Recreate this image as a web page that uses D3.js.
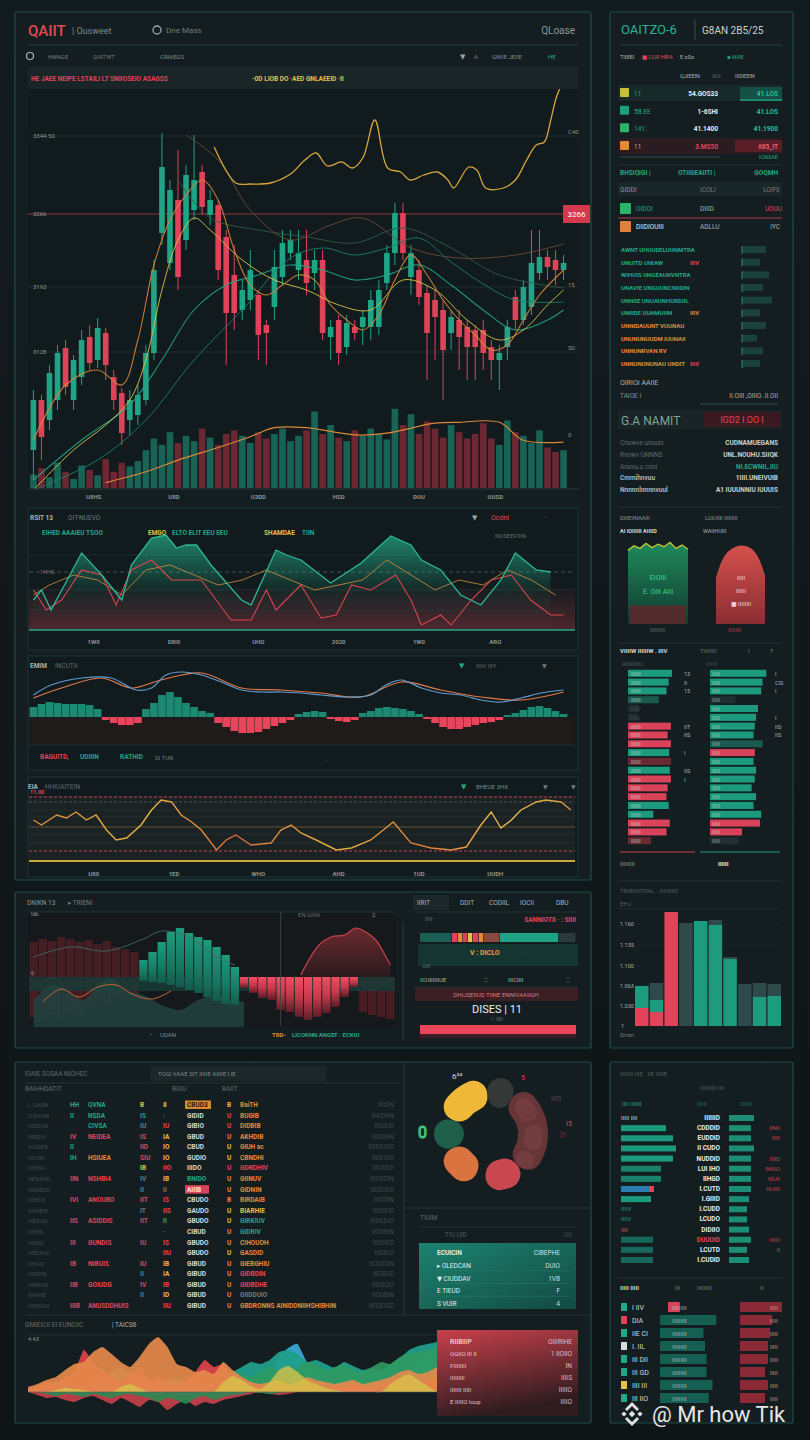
<!DOCTYPE html>
<html><head><meta charset="utf-8">
<script src="https://cdn.jsdelivr.net/npm/d3@7"></script>
<style>
html,body{margin:0;padding:0;background:#0e1517;}
svg{display:block;font-family:Roboto,"DejaVu Sans",sans-serif;}
</style></head><body>
<svg id="c" width="810" height="1440"></svg>
<script>
// ================= DATA =================
const candles = [
[3030,3080,3090,3000],[3080,3043,3085,3020],[3060,3107,3115,3050],[3080,3127,3135,3070],[3132,3093,3140,3085],
[3080,3120,3125,3070],[3103,3140,3150,3095],[3143,3117,3155,3110],[3120,3152,3162,3112],[3147,3115,3152,3100],
[3103,3080,3110,3070],[3087,3047,3092,3035],[3060,3080,3090,3045],[3065,3085,3095,3055],[3080,3127,3135,3075],
[3127,3210,3220,3120],[3247,3313,3347,3235],[3217,3290,3300,3210],[3280,3203,3330,3190],[3240,3305,3315,3230],
[3270,3300,3345,3260],[3308,3273,3315,3265],[3265,3280,3290,3255],[3275,3210,3280,3200],[3243,3167,3250,3115],
[3205,3167,3235,3150],[3170,3190,3200,3160],[3180,3210,3230,3170],[3185,3145,3190,3120],[3155,3147,3160,3115],
[3173,3213,3230,3160],[3203,3237,3250,3195],[3227,3240,3250,3220],[3210,3227,3250,3200],[3220,3197,3250,3185],
[3207,3220,3230,3190],[3220,3147,3230,3140],[3143,3153,3160,3120],[3160,3127,3165,3115],[3133,3157,3165,3125],
[3153,3147,3160,3140],[3153,3163,3170,3135],[3153,3180,3190,3140],[3153,3190,3200,3145],[3197,3227,3235,3190],
[3227,3267,3277,3215],[3267,3227,3277,3220],[3203,3227,3235,3185],[3210,3183,3220,3175],[3187,3147,3195,3100],
[3180,3163,3190,3120],[3170,3130,3180,3080],[3147,3163,3170,3130],[3160,3143,3170,3110],[3153,3133,3160,3100],
[3150,3133,3155,3100],[3150,3127,3160,3110],[3133,3120,3140,3100],[3120,3127,3135,3090],[3133,3153,3160,3120],
[3183,3160,3190,3150],[3160,3193,3200,3155],[3173,3217,3250,3165],[3207,3223,3250,3200],[3223,3213,3230,3200],
[3220,3210,3230,3195],[3210,3217,3225,3200]
];
const volumes = [15,22,12,28,18,10,25,20,14,32,18,28,24,
30,42,55,48,62,50,58,52,66,56,48,60,64,
58,50,62,55,60,66,52,58,64,85,60,70,56,
52,64,58,66,60,54,88,70,82,60,74,66,56,
70,62,55,60,72,55,48,75,62,58,50,64,45,40,42];
const volMA = [[9,6],[14,18],[18,31],[23,45],[27,57],[30,67],[34,67],[40,59],[44,61],[50,72],[53,73],[58,73],[61,53],[66,51]];
const priceTicks = [3344,3266,3193,3128];
const priceTickLabels = ["3344.50","3266","3193","3128"];
const rightTicks = [3348,3195,3132,3045];
const rightTickLabels = ["C40","15","5D","0"];
const lastPrice = 3266;
const topLine = [[22.5,3333],[25.2,3297],[27,3296],[29.5,3297],[32,3306],[33.8,3320],[35.2,3327],[36.6,3314],[38.4,3318],[39.7,3312],[41,3322],[42.5,3360],[44.1,3312],[45.7,3308],[46.9,3300],[48.6,3305],[50.3,3308],[51.6,3300],[52.3,3292],[54.2,3313],[55.2,3310],[56.3,3292],[58.5,3292],[60,3300],[61.4,3320],[62.6,3335],[63.6,3338],[64.4,3360],[65.2,3385],[66.6,3408]];
const maOrange = [[0,3040],[4,3095],[8,3110],[11,3095],[13,3140],[15,3215],[17,3260],[19,3285],[21,3300],[23,3280],[25,3230],[27,3195],[29,3185],[31,3195],[33,3205],[35,3200],[37,3175],[39,3160],[41,3150],[43,3165],[45,3200],[47,3225],[49,3205],[51,3180],[53,3160],[55,3145],[57,3130],[59,3135],[61,3160],[63,3185],[66,3210]];
const maYellow = [[0,2990],[5,3030],[9,3055],[12,3080],[14,3120],[16,3190],[18,3240],[20,3262],[22,3250],[26,3220],[30,3200],[34,3190],[38,3175],[42,3170],[46,3200],[50,3190],[54,3160],[58,3140],[61,3150],[64,3175],[66,3190]];
const maTeal = [[0,3000],[6,3040],[12,3075],[16,3120],[20,3170],[24,3195],[28,3205],[32,3215],[36,3210],[40,3200],[44,3205],[48,3215],[52,3195],[56,3170],[60,3150],[64,3160],[66,3170]];
const maTeal2 = [[0,2990],[8,3020],[14,3060],[20,3120],[26,3170],[32,3222],[36,3232],[40,3225],[44,3232],[48,3242],[52,3218],[56,3196],[60,3180],[66,3178]];
const maDark = [[18,3300],[22,3262],[28,3250],[34,3243],[40,3237],[46,3252],[52,3232],[58,3205],[66,3192]];
const maBrown = [[19,3345],[23,3320],[27,3270],[32,3240],[37,3255],[41,3262],[47,3232],[53,3222],[60,3225],[66,3236]];
const mainTickIdx = [7.5,17.5,28,38,48,57.5];
const mainTickLabels = ["U8HS","U8D","U3DD","HSD","DUU","UUSD"];

const rsiTeal = [[0,30],[1,40],[2.2,20],[6,77],[8.5,55],[11,30],[12.2,65],[14.7,92],[16.5,95],[17.8,82],[19,85],[20.3,85],[22.1,65],[25.9,30],[27.1,25],[30.2,80],[31.5,75],[33.3,70],[37,47],[40.8,67],[44.5,94],[47,85],[48.3,70],[50.7,60],[53.2,35],[55.7,25],[58.2,50],[60,77],[62.6,60],[64.4,58]];
const rsiRed = [[0,40],[1.6,20],[3.5,30],[6,60],[8.5,55],[10.3,25],[12.2,60],[14.7,70],[17.2,50],[20.9,50],[24.6,10],[27.1,10],[29,40],[30.2,20],[33.3,45],[35.8,12],[37.7,15],[39.6,45],[42,40],[45.1,55],[47,30],[48.3,5],[50.7,15],[52,5],[54.5,30],[57,50],[59.5,55],[61.9,30],[64.4,15],[66,15]];
const rsiOrange = [[0,35],[2,45],[5,55],[8,50],[11,35],[14,60],[17,65],[20,55],[23,45],[26,50],[29,60],[32,50],[35,40],[38,45],[41,50],[44,70],[47,55],[50,40],[53,50],[56,45],[59,60],[62,50],[65,35]];
const subTickLabels1 = ["1W0","D8I0","UHO","2020","1W0","ARO"];

const macdBlue = [[0,22],[2.2,32],[6,39],[9.7,39],[12.8,27],[14.7,29],[16.5,42],[18.4,45],[20.9,42],[23.4,35],[25.9,27],[28.4,25],[30.8,25],[33.3,24],[35.8,22],[38.9,20],[42,22],[43.9,32],[45.8,37],[48.3,29],[50.7,24],[53.2,22],[55.7,17],[58.2,15],[60.7,19],[63.2,24],[66,27]];
const macdOrange = [[0,19],[3.5,29],[8.5,39],[12.2,29],[15.9,37],[20.9,44],[25.9,29],[30.8,27],[35.8,24],[40.8,20],[45.8,35],[50.7,27],[55.7,20],[60.7,17],[66,25]];
const macdHist = [10,13,15,14,13,13,13,12,8,
-3,-6,-8,-8,-6,
8,14,22,25,20,14,
10,6,4,
-6,-10,-14,-16,-16,-15,-12,-9,-6,-3,
3,5,6,5,
-2,-4,-5,-3,
4,6,9,10,9,
8,6,3,-2,
-6,-10,-12,-12,-10,-8,-6,
-5,-3,2,
4,7,10,11,9,6,3];

const osc = [[0,38],[1,33],[2.9,43],[4.1,40],[5.3,46],[6.6,38],[7.8,43],[9.1,28],[10.3,18],[11.6,20],[13.4,33],[14.7,48],[15.9,58],[17.2,56],[18.4,43],[19.7,36],[20.9,28],[22.8,8],[24,18],[25.2,23],[27.1,13],[29.6,15],[30.8,28],[32.1,33],[33.3,25],[35.2,18],[37.7,8],[39.6,10],[42,18],[44.8,36],[47,15],[49.5,10],[52,8],[53.9,11],[55.7,33],[57,46],[57.6,38],[58.2,30],[59.5,38],[60.7,48],[62.6,56],[63.8,58],[65.7,56],[66.9,48]];
const oscLevels = {top:61, upper:56, mid:31, lower:7, base:-3};
const subTickLabels3 = ["U80","1ED","WHO","AHD","1UD","UUDH"];

const p4Bull =    [0,0,0,0,0,0,0,0,0,0,0,0,17,25,35,45,49,44,40,37,30,22,10,0,0,0,0,0,0,0,0,0,0,0,0,0,0,0,0,0];
const p4BullLow = [0,0,0,0,0,0,0,0,0,0,0,0,-4,-5,-6,-8,-10,-13,-16,-20,-24,-27,-28,0,0,0,0,0,0,0,0,0,0,0,0,0,0,0,0,0];
const p4Bear = [0,0,0,0,0,0,0,0,0,0,0,0,0,0,0,0,0,0,0,0,0,0,0,-11,-16,-21,-23,-33,-35,-40,-43,-40,-36,-30,-20,-10,0,0,0,0];
const p4HazeUp = [35,38,36,40,38,35,37,33,36,30,28,25,0,0,0,0,0,0,0,0,0,0,0,0,0,0,0,0,0,0,0,0,0,0,0,0,0,0,0,0];
const p4HazeDn = [-40,-42,-38,-40,-35,-38,-30,-25,-28,-20,-22,-18,0,0,0,0,0,0,0,0,0,0,0,0,0,0,0,0,0,0,0,0,0,0,0,0,-35,-38,-40,-42];
const p4Hill = [[29.2,2],[31.2,32],[32.5,40],[34,42],[35.2,49],[36.3,45],[37.4,37],[38.4,22],[39,12]];
const p4Flow = [[0,-23],[2,-8],[3.5,-13],[5.5,-23],[7,-8],[8.5,-1],[10,-13],[12,-18],[14,-28],[16,-33],[18,-23],[20,-18],[22,-23],[23,-25]];
const p4Orange = [[1,-25],[3,-12],[5,-20],[7,-10],[9,-8],[11,-18],[13,-22],[15,-14]];
const p4Thin = [[0,20],[4,30],[8,26],[12,38],[14,46],[17,40],[20,20],[22,12]];
const stripVals = [26,5,4,4,4,5,4,13,48,14];
const stripCols = ['#1b5f54','#e2435a','#e38b3b','#d9435a','#e3c14a','#e2435a','#e38b3b','#8a4a3e','#1fa384','#2b3a3c'];
const p4Progress = 100;

const tblNames = ["I. GAEN","ITEAHN","IIIDEAN","IIEEDII","IAIIDEN","IIICIIN","IIIEIIIA","IIENAIID","IIDNEED","IIIIEDII","IIANEIII","IIIEDAS","IIIEIIS","IIIDIID","IIIEEIHD","IIIEAD","IIIIDEN","IIIEHAS","IIIIANE","IIIENAIII"];
const tblRows = [
["t:HH","t:QVNA","y:B","y:8","O:CBUD3","y:B","o:BaiTH"],
["t:II","t:NSDA","t:IS","t:·","w:GIDID","r:U","o:BUGIB"],
["","t:CIVSA","g:IU","r:IU","w:GIBIO","r:U","o:DIDBIB"],
["r:IV","r:NEIDEA","r:IS","y:IA","w:GBUD","o:U","o:AKHDIB"],
["t:II","","r:IID","y:IO","w:CBUD","y:U","o:GIUH ac"],
["t:IH","o:HSIUEA","r:SIU","y:IO","w:GUDIO","y:U","o:CBNDHI"],
["","","y:IB","r:IIO","w:IIIDO","r:U","r:GDRDHIV"],
["r:IIN","r:NSHBI4","g:IV","y:IB","T:BNIDO","o:U","o:GIINUV"],
["","","g:II","g:II","R:AIIIB","o:U","o:GIDNIN"],
["r:IVI","r:ANOUBO","r:IIT","r:IS","w:CBUDO","o:B","o:BIRDAIB"],
["","","g:IT","r:IIS","w:GAUDO","y:U","y:BIARHIE"],
["r:IIS","r:ASIDDIS","r:IIT","t:II","w:GBUDO","y:U","t:GIRKIUV"],
["","","","t:·","w:CIBUD","o:U","t:GIDRIV"],
["r:III","r:GUNDIS","r:IU","r:IS","w:GBUDO","o:U","o:CIHOUOH"],
["","","","r:IIU","w:GBUDO","y:U","o:GASDID"],
["r:IB","r:NIBUIS","r:IU","y:IB","w:GIBUD","o:U","o:GIEBGHIU"],
["","","g:II","y:IA","w:GIBUD","o:U","r:GIDBDIN"],
["r:IIB","r:GOIUDG","r:IV","r:IB","w:GIBUD","o:U","r:GIDBDHE"],
["","","g:II","y:ID","w:GIBUD","o:U","g:GIIDDUIO"],
["r:IIIB","r:ANUSDDHUIS","","r:IIU","w:GIBUD","o:U","o:GBDRONNS AINIDDNIIHSHIBHIN"]
];
const tblFaint = ["IIIIDN","IIIEDHN","IIIOEID","IIDDEIN","IIEDEIGD","IIDEOID","IIIOEDE","IIIDEDIN","IIEDOED","IIIODIN","IIEDEID","IIIDEDIO","IIODEIN","IIEDIED","IIIDEIO","IIODEDN","IIEDEID","IIIDEDO","IIODEIN","IIEDEIDD"];

const donutVals = [65,35,110,48,12,50,40];
const donutCols = ['#f0b838','#343837','#663537','#c9474f','none','#d9733f','#1f5f4a'];

const streamX = 45;
const stBlue =   [0,0,0,0,0,0,0,0,0,0,0,0,0,0,0,0,0,0,0,0,0,0,0,0,2,5,15,35,44,48,30,20,10,5,8,12,5,3,2,5,10,18,30,40,45];
const stTeal =   [2,3,4,5,6,5,6,8,10,12,14,10,8,6,8,10,8,6,8,10,12,15,20,25,30,28,32,40,42,38,30,32,28,24,30,26,22,24,20,28,34,42,46,48,50];
const stGreen =  [2,4,6,10,12,10,8,12,15,20,25,18,12,10,8,12,15,10,12,8,10,15,20,18,15,20,25,22,18,25,30,28,22,25,28,22,20,25,30,28,35,38,40,42,45];
const stRed =    [3,5,10,8,15,20,42,30,22,15,12,18,25,12,15,10,8,12,20,32,25,28,15,10,8,6,5,8,6,5,8,5,4,6,5,8,6,5,8,10,12,15,10,12,15];
const stOrange = [5,8,12,15,22,28,30,40,45,38,30,25,35,48,55,45,28,25,20,22,18,30,22,15,10,8,10,12,8,10,15,12,10,8,10,12,8,10,12,15,20,22,18,20,25];
const stYellow = [0,0,0,2,4,3,2,0,0,0,5,8,4,0,0,0,0,0,0,0,0,10,16,12,6,3,10,22,26,20,12,8,4,2,0,0,0,0,0,8,14,18,12,6,0];
const stRedDip = [0,-3,-6,-5,-8,-10,-6,-4,-8,-12,-6,-10,-15,-8,-10,-18,-12,-8,-14,-10,-12,-8,-6,-4,-2,0,-2,-3,-2,0,0,0,0,0,0,0,0,0,0,0,0,0,0,0,0];
const stGreenDip=[0,0,-2,-4,-2,-3,-5,-2,-4,-6,-3,-2,-4,-6,-10,-6,-8,-12,-6,-4,-8,-5,-3,-2,0,-1,-2,-1,0,0,0,0,0,0,0,0,0,0,0,0,0,0,0,0,0];

const rtAssets = [
 {icon:'#c8c03a', sym:'11', p:'54.GOS33', ch:'41.LOS', up:true},
 {icon:'#1f9e82', sym:'5B.EE', p:'1-6SHI', ch:'41.LOS', up:true},
 {icon:'#2fb36a', sym:'141:', p:'41.1400', ch:'41.1900', up:true},
 {icon:'#e08a3a', sym:'11', p:'3.MS50', ch:'#85_IT', up:false}
];
const rtList = [
 ["t","AWNT UHUUDELUUNMTRA",""],["t","UNUITD UNIAW","r"],["t","WIHUIS UNGEAUNVNTRA",""],["t","UNAVIE UNGUUNCNIIDIN",""],
 ["t","UNNIIE UNUAUNHURDIIL",""],["t","UMIIDE UUAMUIIM","o"],["o","UNNIDAUUNT VUUNAU",""],["o","UNUNUNUUDM IUUNAII",""],
 ["o","UNNUNRVAN RV",""],["o","UNNUNUNUNAU UNDIT","r"]
];
const rtLadder = [8,6,9,7,10,6,8,5,7,6];
const rtLower = [["Cnuwve unuuis","CUDNAMUEGANS"],["Rvowv UNNNS","UNL.NOUHU.SIIQK"],["Anuvu.u cnoi","NI.ECWNIL.IIU"],["Cmmihnvuu","1IIII.UNEIVUIB"],["Nnnnnlnnnnvuul","A1 IUUUNNIU IUUUIS"]];
const gaugeGreen = [88,93,90,96,91,95,92,97,90,94,89];
const gaugeRed = [55,74,84,89,92,94,93,91,86,76,58];
const hbLeft = [80,74,70,56,20,18,78,72,78,75,78,76,78,72,70,74,46,76,70,42];
const hbLeftT = "tttdffrrrtdtrrrttrrd";
const hbRight = [88,82,80,40,75,72,70,68,82,70,68,72,70,65,72,68,80,78,50,45];
const hbRightT = "tttfttttdrtttttttrrff";
const barCats = d3.range(10);
const barRed  = [18,14,114,0,0,0,0,0,0,0];
const barTeal = [22,12,0,0,105,101,67,0,29,30];
const barGray = [0,17,0,103,0,5,2,42,14,12];
const barTickVals = [20,40,60,81,102];
const barTickLabels = ["1.030","1.063","1.100","1.135","1.160"];
const rbLeft  = [0,45,52,55,52,40,40,30,30,10,10,10,32,32,32];
const rbMid   = ["IIIIIID","CDDDID","EUDDID","II CUDO","NUDDID","LUI IHO","IIHGD","I.CUTD","I.GIIID","I.CUDD","LCUDO","DIDIIO","DUUUID","LCUTD","I.CUDID"];
const rbRight = [25,22,22,25,22,22,22,22,20,18,18,20,22,18,20];
const rbRightTail = ["","IINII","IIIII","","IIIID","INIIIO","IIIUII","IIUIIII","","","","","IIIIO","II",""];
const rbRows2 = [["t","I IIV",45,'r',42],["r","DIA",75,'t',32],["t","IIE CI",58,'t',30],["w","I. IIL",60,'t',28],["t","III DII",62,'t',28],["t","III GD",62,'t',25],["y","IIII III",70,'t',28],["t","III IIO",65,'t',25]];

// ================= HELPERS =================
const CM={t:'#22a887',r:'#e2435a',y:'#e3c14a',o:'#e28b3b',w:'#d5dcdb',g:'#6f7c7d',b:'#5e9bd0',d:'#3e4b4d'};
const svg=d3.select('#c');
const defs=svg.append('defs');
function lg(id,stops,x2,y2){const g=defs.append('linearGradient').attr('id',id).attr('x1',0).attr('y1',0).attr('x2',x2==null?0:x2).attr('y2',y2==null?1:y2);
 stops.forEach(s=>g.append('stop').attr('offset',s[0]).attr('stop-color',s[1]).attr('stop-opacity',s[2]==null?1:s[2]));return g;}
lg('bgG',[[0,'#121b1d'],[1,'#0e1517']]);
lg('tealUp',[[0,'#23a985',0.75],[0.6,'#23a985',0.08],[1,'#23a985',0]]);
lg('redLow',[[0,'#e2435a',0],[1,'#e2435a',0.3]]);
lg('redBar',[[0,'#f04c60'],[0.5,'#c63a4c'],[1,'#5d1e27']]);
lg('tealBar',[[0,'#1d9a7c'],[0.6,'#177a63'],[1,'#145a4c']]);
lg('redBox',[[0,'#c8404b'],[1,'#2e1c20']],0.3,1);
lg('greenShape',[[0,'#1f8a5c'],[1,'#123a30']]);
lg('redShape',[[0,'#d4504c'],[1,'#8a2e33']]);
lg('tealBox',[[0,'#1c8370'],[1,'#134a41']],1,1);
lg('hillG',[[0,'#6b2a30'],[1,'#2a1a1d']]);
const og=lg('oscG',[[0,'#d88a3a'],[0.22,'#e8b445'],[0.38,'#d86a3a'],[0.55,'#e0b040'],[0.72,'#e07a3a'],[0.88,'#e8c050'],[1,'#d88a3a']],1,0);
og.attr('gradientUnits','userSpaceOnUse').attr('x1',28).attr('x2',578).attr('y1',0).attr('y2',0);

function T(g,x,y,s,c,sz,o){o=o||{};const t=g.append('text').attr('x',x).attr('y',y).attr('fill',c||'#7d8a8b').attr('font-size',sz||6.5).text(s);
 if(o.a)t.attr('text-anchor',o.a); if(o.w)t.attr('font-weight',o.w); if(o.op!=null)t.attr('opacity',o.op); if(o.ls!=null)t.attr('letter-spacing',o.ls); return t;}
function R(g,x,y,w,h,f,o){o=o||{};const r=g.append('rect').attr('x',x).attr('y',y).attr('width',Math.max(0,w)).attr('height',Math.max(0,h)).attr('fill',f);
 if(o.s)r.attr('stroke',o.s).attr('stroke-width',o.sw||1); if(o.op!=null)r.attr('opacity',o.op); if(o.rx)r.attr('rx',o.rx); return r;}
function L(g,x1,y1,x2,y2,c,w,o){o=o||{};const l=g.append('line').attr('x1',x1).attr('y1',y1).attr('x2',x2).attr('y2',y2).attr('stroke',c).attr('stroke-width',w||1);
 if(o.da)l.attr('stroke-dasharray',o.da); if(o.op!=null)l.attr('opacity',o.op); return l;}
function panel(x,y,w,h){R(svg,x,y,w,h,'#141e21',{s:'#1f4d46',sw:1.2,rx:2});}
function code(s){if(!s)return null;const i=s.indexOf(':');return {k:s.slice(0,i),v:s.slice(i+1)};}

R(svg,0,0,810,1440,'url(#bgG)');

// ================= PANELS =================
panel(15,12,576,868);
panel(610,12,183,1036);
panel(15,892,576,156);
panel(15,1062,576,361);
panel(610,1062,183,361);

// ================= MAIN CHART =================
const gM=svg.append('g');
T(gM,28,36,'QAIIT','#e04a55',15,{w:500});
T(gM,72,34,'| Ousweet','#7d8a8b',9);
gM.append('circle').attr('cx',157).attr('cy',30).attr('r',4).attr('fill','none').attr('stroke','#9aa5a5').attr('stroke-width',1.3);
T(gM,166,33,'Dne Mass','#6f7c7d',8);
T(gM,575,34,'QLoase','#8d9898',10,{a:'end'});
L(gM,28,45,578,45,'#22403c',1);
gM.append('circle').attr('cx',30).attr('cy',56).attr('r',3.5).attr('fill','none').attr('stroke','#aab4b3').attr('stroke-width',1.2);
T(gM,48,59,'HNNGE','#6f7c7d',6);T(gM,93,59,'GIATWT','#6f7c7d',6);T(gM,160,59,'CRIAEGS','#7d8a8b',6);
T(gM,460,59,'▼','#9aa5a5',7);T(gM,474,59,'A','#6f7c7d',6);T(gM,492,59,'GNIIE JEIIE','#7d8a8b',6);T(gM,548,59,'HE','#22a887',6);
R(gM,28,67,550,22,'#1a2528');
T(gM,31,81,'HE JAEE NEIPE LSTAILI LT   SNIIOSEIO ASAGSS','#e2435a',6.5,{w:700});
T(gM,252,81,'-0D LIOB DO  ·AED GNLAEEID ·II','#e3c14a',6.5,{w:700});

const n=candles.length;
const xb=d3.scaleBand().domain(d3.range(n)).range([29,568]).paddingInner(0.3).paddingOuter(0.2);
const bw=xb.bandwidth();
const xi=d3.scaleLinear().domain([0,n-1]).range([xb(0)+bw/2,xb(n-1)+bw/2]);
const yP=d3.scaleLinear().domain([3000,3350]).range([480,130]);
const yV=d3.scaleLinear().domain([0,100]).range([488,398]);
defs.append('clipPath').attr('id','clipM').append('rect').attr('x',28).attr('y',89).attr('width',550).attr('height',400);
R(gM,28,89,550,400,'#111a1c');
const gP=gM.append('g').attr('clip-path','url(#clipM)');
priceTicks.forEach((t,i)=>{L(gP,28,yP(t),578,yP(t),'#223234',0.8);});
priceTicks.forEach((t,i)=>T(gM,33,yP(t)+2,priceTickLabels[i],'#8a9596',6));
rightTicks.forEach((t,i)=>T(gM,568,yP(t)+2,rightTickLabels[i],'#8a9596',6));
gP.selectAll('.vol').data(volumes).enter().append('rect')
 .attr('x',(d,i)=>xb(i)-0.5).attr('width',bw+1).attr('y',d=>yV(d)).attr('height',d=>yV(0)-yV(d))
 .attr('fill',(d,i)=>candles[i][1]>=candles[i][0]?'#1b6b5d':'#772a35').attr('opacity',0.9);
const lnI=(ys)=>d3.line().x(d=>xi(d[0])).y(d=>ys(d[1])).curve(d3.curveCatmullRom);
gP.append('path').datum(volMA).attr('d',lnI(yV)).attr('fill','none').attr('stroke','#d9883a').attr('stroke-width',1.2);
L(gP,28,yP(lastPrice),563,yP(lastPrice),'#8e2f3a',1.2);
const cg=gP.selectAll('.cd').data(candles).enter().append('g');
cg.append('line').attr('x1',(d,i)=>xi(i)).attr('x2',(d,i)=>xi(i)).attr('y1',d=>yP(d[2])).attr('y2',d=>yP(d[3]))
 .attr('stroke',d=>d[1]>=d[0]?'#1fa486':'#e04359').attr('stroke-width',1);
cg.append('rect').attr('x',(d,i)=>xb(i)).attr('width',bw).attr('y',d=>yP(Math.max(d[0],d[1])))
 .attr('height',d=>Math.max(1,Math.abs(yP(d[0])-yP(d[1])))).attr('fill',d=>d[1]>=d[0]?'#1fa486':'#e04359');
[[maTeal2,'#1c7d6a',1],[maDark,'#2f5a4a',1],[maBrown,'#6a4a3a',1],[maTeal,'#21a385',1.1],[maYellow,'#d8c34a',1],[maOrange,'#d9853b',1.1]].forEach(m=>{
 gP.append('path').datum(m[0]).attr('d',lnI(yP)).attr('fill','none').attr('stroke',m[1]).attr('stroke-width',m[2]).attr('opacity',0.9);});
gP.append('path').datum(topLine).attr('d',lnI(yP)).attr('fill','none').attr('stroke','#d9a63c').attr('stroke-width',1.3);
L(gM,28,489,578,489,'#2a3b3d',1);
R(gM,563,yP(lastPrice)-9,27,18,'#d6384b');
T(gM,576.5,yP(lastPrice)+3,String(lastPrice),'#ffffff',8,{a:'middle'});
mainTickIdx.forEach((t,i)=>T(gM,xi(t),499,mainTickLabels[i],'#8a9596',6,{a:'middle',w:700}));

// ================= SUB PANEL 1 =================
const g1=svg.append('g');
R(g1,28,508,550,142,'#111a1c',{s:'#1b3432'});
T(g1,30,520,'RSIT 13','#aab4b3',6.5,{w:700});T(g1,68,520,'OIT-NUEVO','#6f7c7d',6.5);
T(g1,472,520,'▼','#9aa5a5',7);T(g1,491,520,'Ocdnl','#e2435a',7);T(g1,544,520,'·','#e2435a',7);
T(g1,42,535,'EIHED AAAIEU TSOO','#22a887',6.5,{w:700});
T(g1,148,535,'EMGO','#e3c14a',6.5,{w:700});T(g1,172,535,'ELTO ELIT EEU EEU','#22a887',6.5,{w:700});
T(g1,264,535,'SHAMDAE','#e3c14a',6.5,{w:700});T(g1,302,535,'TIIN','#22a887',6.5,{w:700});
T(g1,495,538,'NDSEEFIIIN','#5f6c6d',6);
const y1=d3.scaleLinear().domain([0,100]).range([630,530]);
R(g1,29,y1(45),546,y1(0)-y1(45),'url(#redLow)');
[20,40,75].forEach(v=>L(g1,29,y1(v),575,y1(v),'#263436',0.7));
L(g1,29,y1(58),575,y1(58),'#55605f',0.8,{da:'4,3'});
T(g1,40,y1(58)+2,'1HHG','#6f7c7d',5.5);
const ar1=d3.area().x(d=>xi(d[0])).y0(y1(0)).y1(d=>y1(d[1]));
g1.append('path').datum(rsiTeal).attr('d',ar1).attr('fill','url(#tealUp)');
const ln1=d3.line().x(d=>xi(d[0])).y(d=>y1(d[1]));
g1.append('path').datum(rsiOrange).attr('d',ln1).attr('fill','none').attr('stroke','#c98a3d').attr('stroke-width',1).attr('opacity',0.85);
g1.append('path').datum(rsiRed).attr('d',ln1).attr('fill','none').attr('stroke','#d9434f').attr('stroke-width',1.1);
g1.append('path').datum(rsiTeal).attr('d',ln1).attr('fill','none').attr('stroke','#2bb79a').attr('stroke-width',1.3);
L(g1,29,y1(0),575,y1(0),'#22a887',1.6);
mainTickIdx.forEach((t,i)=>T(g1,xi(t),644,subTickLabels1[i],'#8a9596',6,{a:'middle',w:700}));

// ================= SUB PANEL 2 =================
const g2=svg.append('g');
R(g2,28,656,550,114,'#111a1c',{s:'#1b3432'});
T(g2,30,668,'EMIM','#aab4b3',6.5,{w:700});T(g2,55,668,'INCUTA','#5f6c6d',6.5);
T(g2,459,668,'▼','#22a887',7);T(g2,476,668,'IIIIV IIIY','#5f6c6d',6);T(g2,542,668,'▼','#6f7c7d',6);T(g2,570,668,'·','#6f7c7d',6);
const y2=d3.scaleLinear().domain([-25,45]).range([742,672]);
R(g2,29,y2(0),546,y2(-28)-y2(0),'#231b1a',{op:0.8});
g2.selectAll('.hb').data(macdHist).enter().append('rect')
 .attr('x',(d,i)=>xb(i)-1).attr('width',bw+2).attr('y',d=>y2(Math.max(0,d))).attr('height',d=>Math.abs(y2(d)-y2(0)))
 .attr('fill',d=>d>=0?'#1c8a72':'#e8455c');
const ln2=d3.line().x(d=>xi(d[0])).y(d=>y2(d[1])).curve(d3.curveCatmullRom);
g2.append('path').datum(macdOrange).attr('d',ln2).attr('fill','none').attr('stroke','#e0784a').attr('stroke-width',1.2);
g2.append('path').datum(macdBlue).attr('d',ln2).attr('fill','none').attr('stroke','#5e9bd0').attr('stroke-width',1.2);
L(g2,29,745,575,745,'#1e3331',1);
T(g2,40,759,'BAGUITD,','#e2435a',6.5,{w:700});T(g2,80,759,'UDIIIN','#22a887',6.5,{w:700});T(g2,120,759,'RATHID','#22a887',6.5,{w:700});T(g2,155,760,'SI TUN','#6f7c7d',6);
T(g2,325,763,'·','#6f7c7d',7);

// ================= SUB PANEL 3 =================
const g3=svg.append('g');
R(g3,28,777,550,100,'#111a1c',{s:'#1b3432'});
T(g3,28,789,'EIA','#aab4b3',6.5,{w:700});T(g3,45,789,'HHIUAITEIN','#5f6c6d',6.5);
T(g3,461,789,'▼','#22a887',7);T(g3,476,789,'BHEOE 3HX','#7d8a8b',6);T(g3,543,789,'▼','#6f7c7d',6);T(g3,571,789,'▼','#6f7c7d',6);
const y3=d3.scaleLinear().domain([0,60]).range([858,798]);
R(g3,29,y3(oscLevels.top)-1,546,y3(oscLevels.base)-y3(oscLevels.top)+1,'#1b2224');
[48,41,24,15].forEach(v=>L(g3,29,y3(v),575,y3(v),'#2a3234',0.7));
L(g3,29,y3(oscLevels.mid),575,y3(oscLevels.mid),'#6b5a32',0.9);
L(g3,29,y3(oscLevels.top),575,y3(oscLevels.top),'#c2404f',1,{da:'3,2'});
L(g3,29,y3(oscLevels.upper),575,y3(oscLevels.upper),'#5a6262',0.8,{da:'3,2'});
L(g3,29,y3(oscLevels.lower),575,y3(oscLevels.lower),'#c2404f',1,{da:'3,2'});
L(g3,29,y3(oscLevels.base),575,y3(oscLevels.base),'#c9a63a',2);
T(g3,30,794,'11.00','#e2435a',5.5,{w:700});
g3.append('path').datum(osc).attr('d',d3.line().x(d=>xi(d[0])).y(d=>y3(d[1]))).attr('fill','none').attr('stroke','url(#oscG)').attr('stroke-width',1.4);
mainTickIdx.forEach((t,i)=>T(g3,xi(t),876,subTickLabels3[i],'#8a9596',6,{a:'middle',w:700}));

// ================= PANEL 4 =================
const g4=svg.append('g');
T(g4,27,905,'DNIKN 13','#8a9596',6.5);T(g4,68,905,'▸ TRIENI','#6f7c7d',6.5);
const p4n=p4Bull.length;
const x4=d3.scaleBand().domain(d3.range(p4n)).range([29,395]).paddingInner(0.1).paddingOuter(0.05);
const x4i=d3.scaleLinear().domain([0,p4n-1]).range([x4(0)+x4.bandwidth()/2,x4(p4n-1)+x4.bandwidth()/2]);
const y4=d3.scaleLinear().domain([-50,50]).range([1027,927]);
R(g4,28,912,368,115,'#15191b');
L(g4,28,912,396,912,'#2a3a3b',0.8);
g4.selectAll('.hu').data(p4HazeUp).enter().append('rect').attr('x',(d,i)=>x4(i)).attr('width',x4.bandwidth())
 .attr('y',d=>y4(d)).attr('height',d=>y4(0)-y4(d)).attr('fill','#4a1f26').attr('opacity',0.9);
g4.selectAll('.hd').data(p4HazeDn).enter().append('rect').attr('x',(d,i)=>x4(i)).attr('width',x4.bandwidth())
 .attr('y',y4(0)).attr('height',d=>y4(d)-y4(0)).attr('fill','#4f1d25').attr('opacity',0.9);
g4.append('path').datum(p4Hill).attr('d',d3.area().x(d=>x4i(d[0])).y0(y4(0)).y1(d=>y4(d[1])).curve(d3.curveCatmullRom)).attr('fill','url(#hillG)');
g4.append('path').datum(p4Hill).attr('d',d3.line().x(d=>x4i(d[0])).y(d=>y4(d[1])).curve(d3.curveCatmullRom)).attr('fill','none').attr('stroke','#c8404f').attr('stroke-width',1.2);
R(g4,29,y4(0),366,y4(-14)-y4(0),'#163d38',{op:0.8});
g4.append('path').datum(p4Flow).attr('d',d3.area().x(d=>x4i(d[0])).y0(y4(-50)).y1(d=>y4(d[1])).curve(d3.curveCatmullRom)).attr('fill','#21433f').attr('opacity',0.85);
g4.selectAll('.bu').data(p4Bull).enter().append('rect').attr('x',(d,i)=>x4(i)).attr('width',x4.bandwidth())
 .attr('y',d=>y4(d)).attr('height',(d,i)=>d>0?y4(p4BullLow[i])-y4(d):0).attr('fill','url(#tealBar)');
g4.selectAll('.be').data(p4Bear).enter().append('rect').attr('x',(d,i)=>x4(i)).attr('width',x4.bandwidth())
 .attr('y',y4(0)).attr('height',d=>y4(d)-y4(0)).attr('fill','url(#redBar)');
g4.append('path').datum(p4Orange).attr('d',d3.line().x(d=>x4i(d[0])).y(d=>y4(d[1])).curve(d3.curveCatmullRom)).attr('fill','none').attr('stroke','#c8663a').attr('stroke-width',1);
g4.append('path').datum(p4Thin).attr('d',d3.line().x(d=>x4i(d[0])).y(d=>y4(d[1])).curve(d3.curveCatmullRom)).attr('fill','none').attr('stroke','#3f6a62').attr('stroke-width',0.9);
L(g4,x4i(27),912,x4i(27),1026,'#3a4a4b',0.9);
T(g4,31,916,'Idk.','#8a9596',5.5);T(g4,31,975,'6','#8a9596',5.5);
T(g4,298,917,'EN GIIIA','#5f6c6d',6);T(g4,372,917,'2','#8a9596',6);
T(g4,150,1037,'•','#22a887',6);T(g4,160,1037,'UDAN','#7d8a8b',6);
T(g4,272,1037,'TRD-','#e28b3b',6,{w:700});T(g4,292,1037,'LICOKNN ANGEF : ECKIU','#22a887',6,{w:700});
L(g4,403,922,403,1040,'#2a3b3c',1);
R(g4,413,895,36,15,'#1c2729');
['IIRIT','DDIT','CODIIL','IOCII','DBU'].forEach((s,i)=>T(g4,[417,460,489,520,556][i],905,s,'#aab4b3',6.5));
L(g4,415,912,578,912,'#23393a',0.8);
T(g4,425,921,'IIIII','#5f6c6d',5.5);T(g4,576,922,'SANNIOTII · : SIIII','#e2435a',6.5,{a:'end',w:700});
R(g4,418,944,160,22,'#153b36',{op:0.8});
const xs=d3.scaleLinear().domain([0,d3.sum(stripVals)]).range([420,576]);
let acc=0;stripVals.forEach((v,i)=>{R(g4,xs(acc),933,xs(acc+v)-xs(acc)-0.6,9,stripCols[i]);acc+=v;});
T(g4,470,955,'V : DICLO','#e3a03b',7,{w:700});T(g4,520,955,'. ·  ·','#22a887',6);
T(g4,420,968,'· IIIII','#5f6c6d',5.5);
T(g4,420,982,'ICUIIIIIIUE','#aab4b3',6);T(g4,484,982,'⁚⁚','#aab4b3',6);T(g4,508,982,'IIICIIII','#aab4b3',6);T(g4,566,982,'⁚⁚','#aab4b3',6);
L(g4,415,987,578,987,'#2a3b3c',0.8);
R(g4,415,988,163,13,'#3a1e24');
T(g4,496,997,'DHIJSEIIUD TIINE ENNIVAAIIGH','#d77a86',6,{a:'middle'});
T(g4,497,1013,'DISES | 11','#e8eeee',11,{a:'middle'});
T(g4,497,1021,'· I · IIIII ·','#6f7c7d',4.5,{a:'middle'});
const xpr=d3.scaleLinear().domain([0,100]).range([420,576]);
R(g4,420,1029,xpr(p4Progress)-420,9,'#3a1c22');
R(g4,420,1025,xpr(p4Progress)-420,9,'#e9465b');

// ================= PANEL 5: TABLE =================
const g5=svg.append('g');
T(g5,25,1076,'EIAIE SOSAA NIOHEC','#5f6c6d',6.5);T(g5,130,1076,'·','#5f6c6d',6);
R(g5,150,1066,176,15,'#1c2729');
T(g5,158,1076,'TOGI VAAE SIT   IIIIIE AIIIIE  I  IE','#7d8a8b',6);
L(g5,25,1083,400,1083,'#23393a',0.8);
T(g5,25,1091,'BAIHHDATIT','#5f6c6d',6.5);T(g5,130,1091,'·','#5f6c6d',6);T(g5,172,1091,'BGIU','#5f6c6d',6.5);T(g5,222,1091,'BAIIT','#5f6c6d',6.5);
const yr=d3.scalePoint().domain(d3.range(tblRows.length)).range([1105,1306]);
const colX=[70,88,140,163,187,227,240];
tblRows.forEach((row,ri)=>{
 const y=yr(ri)+2;
 T(g5,28,y,tblNames[ri],'#5f6c6d',6,{op:0.55});
 row.forEach((cs,ci)=>{const c=code(cs);if(!c||!c.v)return;
  if(c.k==='O'){R(g5,colX[ci]-2,y-6.5,26,8.5,'#d98a2e');T(g5,colX[ci],y,c.v,'#2a1a10',6.5,{w:700});}
  else if(c.k==='R'){R(g5,colX[ci]-2,y-6.5,24,8.5,'#d9435a');T(g5,colX[ci],y,c.v,'#ffe0e0',6.5,{w:700});}
  else if(c.k==='T'){T(g5,colX[ci],y,c.v,'#22a887',6.5,{w:700});}
  else T(g5,colX[ci],y,c.v,CM[c.k],6.5,{w:700});
 });
 T(g5,394,y,tblFaint[ri],'#4d5d5d',6.5,{a:'end',op:0.7});
});
L(g5,25,1315,590,1315,'#23393a',0.8);
L(g5,404,1063,404,1315,'#23393a',1);

// donut
const gD=svg.append('g').attr('transform','translate(491,1134)');
const pie=d3.pie().sort(null).value(d=>d).startAngle(-70*Math.PI/180).endAngle(290*Math.PI/180).padAngle(0.004);
const arc=d3.arc().innerRadius(27).outerRadius(57).cornerRadius(14);
gD.selectAll('path').data(pie(donutVals)).enter().append('path').attr('d',arc).attr('fill',(d,i)=>donutCols[i]);
const arcIn=d3.arc().innerRadius(33).outerRadius(52).cornerRadius(9);
const maroonSub=[[38,72],[78,112],[116,138]];
maroonSub.forEach(a=>gD.append('path').attr('d',arcIn({startAngle:a[0]*Math.PI/180,endAngle:a[1]*Math.PI/180})).attr('fill','#7d4447').attr('opacity',0.55));
T(svg,452,1079,'6²⁴','#d5dcdb',8);T(svg,521,1080,'5','#e2435a',7);T(svg,551,1101,'IIID','#4d5d5d',7,{op:0.8});
T(svg,566,1126,'I5','#e2435a',7);T(svg,559,1137,'(5','#7a2a35',7);
T(svg,418,1138,'0','none',16).attr('stroke','#4ad38a').attr('stroke-width',1.1);
L(svg,404,1208,590,1208,'#23393a',1);
T(svg,420,1220,'TIUIM','#5f6c6d',6.5);
L(svg,420,1227,576,1227,'#23393a',0.8);
T(svg,445,1237,'TIU UID','#4d5d5d',6.5);T(svg,572,1237,'IIIII','#3e4b4d',6.5,{a:'end'});
R(svg,419,1243,157,66,'url(#tealBox)');
const infoRows=[["ECUICIN","CIBEPHE"],["▸ OLEDCAN","DUIO"],["▼ CIUDDAV","1VB"],["E TIEUD","F"],["S VUIR","4"]];
const yi=d3.scalePoint().domain(d3.range(infoRows.length)).range([1255,1306]);
infoRows.forEach((r,i)=>{T(svg,437,yi(i),r[0],'#e6ecea',6.5,{w:i===0?700:400});T(svg,560,yi(i),r[1],'#d5dcdb',6.5,{a:'end'});
 if(i>0&&i<4)L(svg,437,yi(i)+3,570,yi(i)+3,'#2a7d6c',0.5);});

// stream chart
T(svg,25,1327,'GMIEICII EI EUNCIIC','#5f6c6d',6.5);T(svg,112,1327,'| TAICS6','#aab4b3',6.5);
const xS=d3.scaleLinear().domain([0,streamX-1]).range([28,437]);
const yS=d3.scaleLinear().domain([0,60]).range([1392,1332]);
L(svg,28,1335,437,1335,'#23393a',0.6);
T(svg,28,1341,'4.43','#8a9596',5.5);
const stArea=d3.area().x((d,i)=>xS(i)).y0(yS(0)).y1(d=>yS(d)).curve(d3.curveCardinal.tension(0.6));
[[stBlue,'#39a7d4',0.95],[stTeal,'#1f9e8a',0.95],[stGreen,'#2f9a63',0.9],[stRed,'#d9434b',0.95],[stOrange,'#e5894b',0.92],[stYellow,'#d6c24a',0.8],[stRedDip,'#c9404a',0.9],[stGreenDip,'#2a8a55',0.9]].forEach(s=>{
 svg.append('path').datum(s[0]).attr('d',stArea).attr('fill',s[1]).attr('opacity',s[2]);});
L(svg,28,yS(0),437,yS(0),'#55605f',0.6);
R(svg,437,1330,141,86,'url(#redBox)');
const rbox=[["RIIBIIP","OIIIRIHE"],["OGIIO III II","1 IIOIIO"],["FIIIIIIII","IN"],["IIIIIIIII","IIIIS"],["IIIIIII IIIII","IIIIIO"],["E.IIIIIO Ioop","IIIIO"]];
const yb=d3.scalePoint().domain(d3.range(rbox.length)).range([1344,1404]);
rbox.forEach((r,i)=>{T(svg,450,yb(i),r[0],'#f0d6d6',i===0?7:6,{w:i===0?700:400,op:0.9});T(svg,572,yb(i),r[1],'#f0d6d6',6.5,{a:'end',op:0.85});});

// ================= RIGHT COLUMN TOP =================
const gR=svg.append('g');
T(gR,621,34,'OAITZO-6','#2ab39a',13);
L(gR,695,20,695,40,'#3a4c4d',1);
T(gR,702,34,'G8AN 2B5/25','#c9d1d0',10);
L(gR,620,45,782,45,'#22403c',1);
T(gR,620,59,'TIIBEI','#aab4b3',5.5);T(gR,642,59,'■ COR HBI4','#e2435a',5.5);T(gR,680,59,'E.oSo','#aab4b3',5.5);T(gR,727,59,'▪ MAE','#22a887',5.5);
T(gR,680,78,'QJIEEIN','#aab4b3',5.5);T(gR,712,78,'AUI','#5f6c6d',5.5);T(gR,735,78,'IIIDEEIN','#aab4b3',5.5);
const ya=d3.scalePoint().domain(d3.range(rtAssets.length)).range([93,146]);
rtAssets.forEach((a,i)=>{const y=ya(i);
 if(i===0){R(gR,618,y-8,164,16,'#18292a');R(gR,740,y-6,42,12,'#145046');L(gR,740,y+7,782,y+7,'#22a887',1.5);}
 if(i===3){R(gR,618,y-8,164,16,'#2a1c20');R(gR,735,y-6,47,12,'#5a1e28');}
 R(gR,620,y-5,9,9,a.icon,{rx:1});
 T(gR,634,y+3,a.sym,a.up?'#22a887':'#aab4b3',6.5);
 T(gR,718,y+3,a.p,a.up?'#e6ecea':'#e2435a',6.5,{a:'end',w:700});
 T(gR,778,y+3,a.ch,a.up?'#22c39a':'#f06070',6.5,{a:'end',w:700});
});
L(gR,620,157,720,157,'#2a3b3c',1.5);T(gR,778,159,'ICNSAE','#22a887',5.5,{a:'end'});
L(gR,618,165,782,165,'#23393a',0.8);
T(gR,620,175,'BHSIQIGI |','#22a887',6.5,{w:700});T(gR,678,175,'OTIIGEAIITI |','#22a887',6.5,{w:700});T(gR,778,175,'GOQMH','#22a887',6.5,{a:'end',w:700});
R(gR,618,182,164,14,'#1a2729');
T(gR,620,192,'GIDDI','#8a9596',6.5);T(gR,700,192,'ICOLI','#6f7c7d',6.5);T(gR,780,192,'LOIFE','#6f7c7d',6.5,{a:'end'});
R(gR,620,203,11,11,'#2fb36a',{rx:1});T(gR,636,211,'OIDOI','#22a887',6.5);T(gR,700,211,'DIIID','#aab4b3',6.5);T(gR,782,211,'UOUU','#e2435a',6.5,{a:'end'});
L(gR,618,218,782,218,'#b23a48',1);
R(gR,620,221,11,11,'#e0803a',{rx:1});T(gR,636,229,'DIIDIOUIII','#e6ecea',6.5);T(gR,700,229,'ADLLU','#aab4b3',6.5);T(gR,780,229,'IYC','#aab4b3',6.5,{a:'end'});
const yl=d3.scalePoint().domain(d3.range(rtList.length)).range([252,366]);
const xl=d3.scaleLinear().domain([0,10]).range([0,30]);
rtList.forEach((r,i)=>{const y=yl(i);
 T(gR,621,y,r[1],CM[r[0]],6,{w:700});
 if(r[2])T(gR,690,y,'IIIV',CM[r[2]],6,{w:700});
 R(gR,742,y-6,xl(rtLadder[i]),7,'#1b4a43',{op:0.8});L(gR,742,y-6,742,y+2,'#2a8a74',1);
});
T(gR,620,385,'OIRIOI AAIIE','#aab4b3',7);
T(gR,620,398,'TAIOE I','#8a9596',6.5);T(gR,778,398,'II.OIII ,OIIIO .II.OII','#aab4b3',6.5,{a:'end'});
L(gR,700,404,778,404,'#2a3b3c',1.5);
R(gR,618,410,164,19,'#1a2325');
T(gR,621,425,'G.A NAMIT','#7aa69a',12);
R(gR,704,412,76,15,'#3a1a20');T(gR,742,423,'IGD2 I.OO I','#e2435a',9,{a:'middle'});
const ylo=d3.scalePoint().domain(d3.range(rtLower.length)).range([445,492]);
rtLower.forEach((r,i)=>{T(gR,620,ylo(i),r[0],i<3?'#5f6c6d':'#aab4b3',6.5,{w:i>=3?700:400});T(gR,778,ylo(i),r[1],i===2?'#22a887':'#c9d1d0',6.5,{a:'end',w:700});});
L(gR,618,507,782,507,'#23393a',0.8);
T(gR,620,520,'DIIIEIINAAIII','#8a9596',5.5);T(gR,705,520,'LOIUIIII IIIIIIIII','#8a9596',5.5);
T(gR,620,533,'AI IOIIIIII AIIIID','#d5dcdb',5.5,{w:700});T(gR,703,533,'WAIIHUIII','#aab4b3',5.5);
const xg=d3.scaleLinear().domain([0,gaugeGreen.length-1]).range([628,688]);
const xg2=d3.scaleLinear().domain([0,gaugeRed.length-1]).range([716,765]);
const yg=d3.scaleLinear().domain([0,100]).range([624,540]);
gR.append('path').datum(gaugeGreen).attr('d',d3.area().x((d,i)=>xg(i)).y0(yg(0)).y1(d=>yg(d))).attr('fill','url(#greenShape)');
R(gR,630,yg(22),56,yg(0)-yg(22),'#5a2a2c',{op:0.9});
gR.append('path').datum(gaugeGreen).attr('d',d3.line().x((d,i)=>xg(i)).y(d=>yg(d))).attr('fill','none').attr('stroke','#b8c23a').attr('stroke-width',1.4);
gR.append('path').datum(gaugeRed).attr('d',d3.area().x((d,i)=>xg2(i)).y0(yg(0)).y1(d=>yg(d)).curve(d3.curveBasis)).attr('fill','url(#redShape)');
T(gR,658,580,'EIOIII','#3ad39a',7,{a:'middle'});T(gR,658,594,'E. OIII AIII','#3ad39a',7,{a:'middle'});
T(gR,741,580,'IIIII','#f0d0d0',6,{a:'middle'});T(gR,741,593,'IIIIII','#f0d0d0',6,{a:'middle'});T(gR,741,606,'■ IIIIIIII','#f0d0d0',6,{a:'middle'});
T(gR,650,632,'IIIIIIIIII','#5f6c6d',5.5);T(gR,728,632,'IIIIIIIII','#b23a48',5.5);
L(gR,618,643,782,643,'#23393a',0.8);
T(gR,620,653,'VIIIIW IIIIIIW . IIIV','#d5dcdb',6,{w:700});T(gR,700,653,'TIIIIIIII','#5f6c6d',6);T(gR,748,653,'I','#6f7c7d',6);T(gR,770,653,'?','#8a9596',6);
T(gR,622,666,'AIIIIIIIIU','#4d5d5d',6);T(gR,706,666,'IIIIIII','#3e4b4d',6);
const yh=d3.scaleBand().domain(d3.range(hbLeft.length)).range([668,846]).padding(0.2);
const xhL=d3.scaleLinear().domain([0,100]).range([0,55]);
const xhR=d3.scaleLinear().domain([0,100]).range([0,64]);
const hbCol={t:'#1c9a7e',d:'#1b5a50',f:'#1f2e30',r:'#d9435a'};
hbLeft.forEach((v,i)=>{const k=hbLeftT[i];R(gR,628,yh(i),xhL(v),yh.bandwidth(),k==='d'&&i>8?'#6a2a33':hbCol[k]);
 T(gR,631,yh(i)+yh.bandwidth()-1,'IIIIIII',k==='f'?'#4d5d5d':'#d8e0df',5,{op:0.7});});
hbRight.forEach((v,i)=>{const k=hbRightT[i];R(gR,710,yh(i),xhR(v),yh.bandwidth(),hbCol[k]);
 T(gR,712,yh(i)+yh.bandwidth()-1,'IIIIII','#d8e0df',5,{op:0.6});});
['13','II','15','','','','IIT','IIS','','I','','IIS','I'].forEach((s,i)=>{if(s)T(gR,684,yh(i)+yh.bandwidth()-1,s,'#aab4b3',5.5);});
['I','CIS','I','','','I','IIS','IIS'].forEach((s,i)=>{if(s)T(gR,775,yh(i)+yh.bandwidth()-1,s,'#aab4b3',5.5);});
L(gR,620,852,695,852,'#c2404f',1);L(gR,700,852,780,852,'#1c9a7e',1);
T(gR,620,866,'IIIIIIIII','#8a9596',6);T(gR,718,866,'IIIIII','#e6ecea',6,{w:700});
L(gR,618,881,782,881,'#23393a',0.8);
T(gR,620,893,'TRIBIIIIITIIAL . AIIIIIIIII','#4d5d5d',6);
T(gR,620,906,'EHJ','#4d5d5d',6);L(gR,620,909,780,909,'#1f2e30',0.8);
const xB=d3.scaleBand().domain(barCats).range([635,781]).paddingInner(0.08);
const yB=d3.scaleLinear().domain([0,120]).range([1026,906]);
barTickVals.forEach((v,i)=>{T(gR,620,yB(v)+2,barTickLabels[i],'#aab4b3',5.5);L(gR,636,yB(v),781,yB(v),'#1d2a2c',0.6);});
T(gR,621,1028,'1','#aab4b3',5.5);T(gR,620,1037,'Sinan','#6f7c7d',5.5);
const stackB=d3.stack().keys(['r','t','g'])(barCats.map(i=>({r:barRed[i],t:barTeal[i],g:barGray[i]})));
const bCol={r:'#e2435a',t:'#1d9b7f',g:'#2e4a4b'};
stackB.forEach(s=>{gR.selectAll('.sb'+s.key).data(s).enter().append('rect')
 .attr('x',(d,i)=>xB(i)).attr('width',xB.bandwidth()).attr('y',d=>yB(d[1])).attr('height',d=>yB(d[0])-yB(d[1])).attr('fill',bCol[s.key]);});

// ================= RIGHT COLUMN BOTTOM =================
const gQ=svg.append('g');
T(gQ,620,1076,'IIIIIIII IIIE . IIE IIIIIE','#4d5d5d',6);
T(gQ,700,1090,'IIIIIIIIII IIII','#4d5d5d',6);
T(gQ,622,1106,'IIII IIIIIII','#22a887',6);T(gQ,697,1106,'IIIIII','#1b6b5d',6);T(gQ,740,1106,'IIIIIII','#1b6b5d',6);
const yq=d3.scalePoint().domain(d3.range(rbLeft.length)).range([1118,1260]);
const xqL=d3.scaleLinear().domain([0,60]).range([0,60]);
rbLeft.forEach((v,i)=>{const y=yq(i);
 if(i===0)T(gQ,621,y+2,'IIIII IIII','#c9d1d0',6);
 else if(v>12)R(gQ,621,y-3,xqL(v),6,i>=12?'#17675a':'#1c9a7e',{op:i===5||i===6?0.8:1});
 else T(gQ,621,y+2,i===11?'IIII':'IIIIV',i===11?'#e2435a':'#1c9a7e',6);
 if(i===7){R(gQ,621,y-3,xqL(32),6,'#2a7fb0');R(gQ,649,y-3,5,6,'#e2435a');}
 T(gQ,720,y+2,rbMid[i],i===12?'#e2435a':'#e6ecea',6.5,{a:'end',w:700});
 R(gQ,729,y-3,rbRight[i],6,'#1c9a7e',{op:0.9});
 if(rbRightTail[i])T(gQ,780,y+2,rbRightTail[i],'#c2404f',6,{a:'end'});
});
L(gQ,618,1278,782,1278,'#23393a',0.8);
T(gQ,620,1290,'IIIII IIIII','#c9d1d0',6,{w:700});T(gQ,675,1290,'III','#6f7c7d',6);T(gQ,697,1290,'IIIIIIIII','#6f7c7d',6);T(gQ,760,1290,'II','#6f7c7d',6);
const yq2=d3.scalePoint().domain(d3.range(rbRows2.length)).range([1307,1398]);
const xq2=d3.scaleLinear().domain([0,100]).range([0,75]);
rbRows2.forEach((r,i)=>{const y=yq2(i);
 R(gQ,621,y-4,6,8,CM[r[0]]);
 T(gQ,632,y+3,r[1],'#d5dcdb',7);
 if(r[3]==='r')R(gQ,668,y-5,xq2(r[2])-22,10,'#d9435a');else R(gQ,660,y-5,xq2(r[2]),10,'#155e52');
 T(gQ,672,y+3,'IIIIIIIII','#c9d1d0',6,{op:0.7});
 R(gQ,740,y-5,r[4],10,'#8a2a36');T(gQ,778,y+3,'IIIII','#f0b0b0',6,{a:'end',op:0.7});
});
// watermark
const wm=svg.append('g').attr('transform','translate(632,1414)').attr('fill','#f2f2f2').attr('opacity',0.92);
const dia=(cx,cy,r)=>`M${cx},${cy-r} L${cx+r},${cy} L${cx},${cy+r} L${cx-r},${cy} Z`;
wm.append('path').attr('d',dia(0,0,3.2)+dia(-8,0,2.6)+dia(8,0,2.6));
wm.append('path').attr('d','M0,-12 L7,-5 L5,-3 L0,-8 L-5,-3 L-7,-5 Z M0,12 L7,5 L5,3 L0,8 L-5,3 L-7,5 Z');
T(svg,652,1422,'@ Mr how Tik','#f2f2f2',22).attr('opacity',0.95);
</script></body></html>
